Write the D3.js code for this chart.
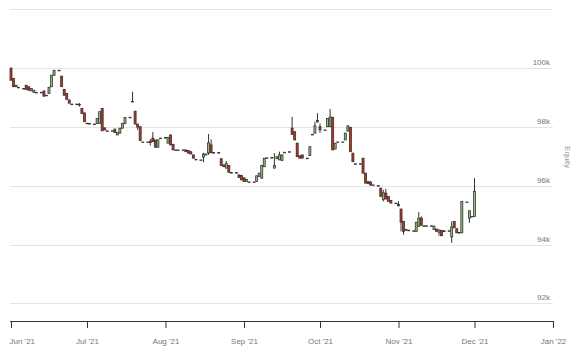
<!DOCTYPE html>
<html>
<head>
<meta charset="utf-8">
<script src="https://cdn.jsdelivr.net/npm/d3@7"></script>
<style>
    body { margin: 0; background: #fff; }
    text { font-family: "Liberation Sans", Arial, sans-serif; }
</style>
</head>
<body>
<div id="chart"></div>
<script>
// daily equity candles, one entry per calendar day: [open, high, low, close]
// a single value means a flat day (open = high = low = close), null = no record (Saturdays)
const firstDay = "2021-06-01";

const jun = [
    [100000, 100020, 99590, 99590], [99650, 99650, 99370, 99370], [99370, 99420, 99370, 99420], [99350],
    null, [99310], [99420, 99420, 99280, 99280], [99370, 99370, 99250, 99250],
    [99230, 99310, 99230, 99310], [99180, 99250, 99180, 99250], [99180], null, [99180],
    [99220, 99250, 99030, 99050], [99080, 99080, 99070, 99070], [99140, 99350, 99140, 99350],
    [99370, 99760, 99370, 99760], [99760, 99930, 99760, 99930], null, [99930],
    [99730, 99730, 99370, 99370], [99280, 99280, 99080, 99080], [99140, 99140, 98940, 98940],
    [98920, 98920, 98810, 98810], [98780], null, [98780], [98770, 98820, 98690, 98750],
    [98630, 98630, 98460, 98460], [98480, 98480, 98180, 98180]
];

const jul = [
    [98130, 98130, 98120, 98120], [98120], null, [98100], [98120, 98290, 98120, 98290],
    [98120, 98520, 98120, 98520], [98630, 98630, 97870, 97870], [97970, 97970, 97900, 97900],
    [97870], null, [97870], [97930, 97930, 97810, 97810], [97730, 97810, 97730, 97810],
    [97790, 97960, 97790, 97960], [97960, 98120, 97960, 98120], [98120, 98320, 98120, 98320],
    null, [98330], [98850, 99200, 98850, 98870], [98540, 98540, 98100, 98100],
    [98100, 98100, 97900, 98000], [98010, 98010, 97540, 97540], [97490], null, [97490],
    [97510, 97590, 97370, 97470], [97620, 97830, 97500, 97500], [97560, 97560, 97310, 97310],
    [97310, 97560, 97310, 97560], [97620], null
];

const aug = [
    [97640], [97450, 97640, 97450, 97640], [97730, 97730, 97390, 97390], [97410, 97410, 97220, 97220],
    [97220], [97220], null, [97220], [97220, 97220, 97160, 97160], [97200, 97200, 97110, 97110],
    [97160, 97160, 97080, 97080], [97050, 97050, 96940, 96940], [96900], null, [96880],
    [96980, 97120, 96800, 97080], [97050, 97080, 97050, 97080], [97120, 97760, 97050, 97460],
    [97390, 97580, 97120, 97120], [97130], null, [97130], [96920, 96920, 96690, 96690],
    [96710, 96710, 96650, 96650], [96600, 96850, 96600, 96750], [96690, 96690, 96460, 96460],
    [96450], null, [96450], [96370, 96370, 96280, 96280], [96350, 96350, 96200, 96200]
];

const sep = [
    [96270, 96270, 96150, 96150], [96150, 96220, 96140, 96220], [96130], null, [96130],
    [96150, 96340, 96150, 96340], [96320, 96430, 96320, 96430], [96260, 96710, 96240, 96690],
    [96650, 96940, 96650, 96940], [96950], null, [96960], [96600, 97110, 96600, 96690],
    [96920, 96990, 96920, 96990], [96880, 97160, 96880, 97050], [96860, 97050, 96860, 97050],
    [97140], null, [97160], [97960, 98350, 97750, 97750], [97840, 97840, 97560, 97560],
    [97450, 97450, 96990, 96990], [97020, 97020, 96940, 96940], [97050, 97050, 96940, 96940],
    null, [96940], [97030, 97330, 97030, 97330], [97750], [97790, 98180, 97790, 98040],
    [98170, 98470, 98150, 98220]
];

const oct = [
    [98010, 98120, 97800, 97900], null, [97900], [98010, 98290, 98010, 98290],
    [98010, 98610, 98010, 98340], [98330, 98330, 97220, 97220], [97250, 97450, 97250, 97450],
    [97490], null, [97490], [97560, 97790, 97560, 97790], [97860, 98040, 97860, 98040],
    [97990, 97990, 97160, 97160], [97110, 97110, 96820, 96820], [96750], null, [96750],
    [96940, 96940, 96430, 96430], [96430, 96430, 96090, 96090], [96150, 96150, 96070, 96070],
    [96110, 96170, 96000, 96030], [96030], null, [96010], [95920, 95920, 95640, 95640],
    [95530, 95860, 95470, 95760], [95750, 95900, 95550, 95550], [95640, 95640, 95470, 95470],
    [95500, 95500, 95410, 95410], null, [95410]
];

const nov = [
    [95360, 95470, 95300, 95320], [95210, 95210, 94450, 94760], [94790, 94790, 94340, 94450],
    [94510], [94490], null, [94470], [94450, 94760, 94450, 94760], [94620, 95100, 94620, 94900],
    [94900, 94960, 94660, 94660], [94640], [94640], null, [94640], [94510, 94630, 94510, 94630],
    [94530, 94530, 94450, 94450], [94420, 94500, 94300, 94500], [94480, 94480, 94300, 94300],
    [94440, 94470, 94440, 94470], null, [94470], [94260, 94790, 94060, 94600],
    [94790, 94790, 94570, 94570], [94540, 94540, 94400, 94400], [94410],
    [94400, 95470, 94400, 95470], null, [95450], [94900, 95150, 94740, 95150], [94960],
    [94960, 96260, 94960, 95810]
];

const yTicks = [92000, 94000, 96000, 98000, 100000];
const yTop = 102000;
const xTicks = ["2021-06-01", "2021-07-01", "2021-08-01", "2021-09-01",
    "2021-10-01", "2021-11-01", "2021-12-01", "2022-01-01"];
const yLabel = "Equity";

let width = 580,
    height = 360,
    margin = { top: 9.4, right: 27, bottom: 39, left: 11 };

const svg = d3
    .select("#chart")
    .append("svg")
    .attr("width", width)
    .attr("height", height);

let x = d3
    .scaleUtc()
    .domain([new Date(xTicks[0]), new Date(xTicks[xTicks.length - 1])])
    .range([margin.left, width - margin.right]);

let y = d3
    .scaleLinear()
    .domain([91400, yTop])
    .range([height - margin.bottom, margin.top]);

// build rows
let candles = [];
[jun, jul, aug, sep, oct, nov].flat().forEach((r, i) => {
    if (!r) return;
    let row = r.length == 1 ? [r[0], r[0], r[0], r[0]] : r;
    candles.push({
        date: d3.utcDay.offset(new Date(firstDay), i),
        open: row[0], high: row[1], low: row[2], close: row[3]
    });
});

// grid
let grid = svg.append("g").attr("class", "grid");
grid.selectAll("line")
    .data(yTicks.concat([yTop]))
    .join("line")
    .attr("x1", 10)
    .attr("x2", width - margin.right)
    .attr("y1", (d) => Math.round(y(d)) + 0.5)
    .attr("y2", (d) => Math.round(y(d)) + 0.5)
    .attr("stroke", "#e4e4e4");

grid.selectAll("text")
    .data(yTicks)
    .join("text")
    .attr("x", width - margin.right - 3)
    .attr("y", (d) => y(d) - 3)
    .attr("text-anchor", "end")
    .attr("font-size", 8)
    .attr("fill", "#777")
    .text((d) => d3.format("~s")(d));

// x axis
let xAxis = svg.append("g")
    .attr("transform", `translate(0,${height - margin.bottom})`)
    .call(
        d3.axisBottom(x)
            .tickValues(xTicks.map((d) => new Date(d)))
            .tickFormat(d3.utcFormat("%b '%y"))
            .tickSize(7)
            .tickSizeOuter(0)
            .tickPadding(10)
    )
    .attr("class", "x-axis");
xAxis.select(".domain").attr("stroke", "#333").attr("d", `M10,0.5H${width - margin.right}`);
xAxis.selectAll(".tick line").attr("stroke", "#333");
xAxis.selectAll(".tick text").attr("fill", "#777").attr("font-size", 8).attr("font-family", null);
xAxis.select(".tick text").attr("text-anchor", "start").attr("dx", "-2");

// candles
let g = svg.append("g").attr("class", "candles");
let c = g.selectAll("g").data(candles).join("g");

c.append("line")
    .attr("x1", (d) => x(d.date))
    .attr("x2", (d) => x(d.date))
    .attr("y1", (d) => y(d.high))
    .attr("y2", (d) => y(d.low))
    .attr("stroke", "#333")
    .attr("stroke-width", 1);

c.append("rect")
    .attr("x", (d) => x(d.date) - 1)
    .attr("width", 2)
    .attr("y", (d) => y(Math.max(d.open, d.close)))
    .attr("height", (d) => Math.max(Math.abs(y(d.open) - y(d.close)), 0.6))
    .attr("fill", (d) => (d.close >= d.open ? "#90c67e" : "#c9301c"))
    .attr("stroke", "#333")
    .attr("stroke-width", 0.8);

svg.append("text")
    .attr("transform", `translate(${width - 15},${(height - margin.bottom + margin.top) / 2 - 8}) rotate(90)`)
    .attr("text-anchor", "middle")
    .attr("font-size", 8)
    .attr("fill", "#999")
    .text(yLabel);
</script>
</body>
</html>
